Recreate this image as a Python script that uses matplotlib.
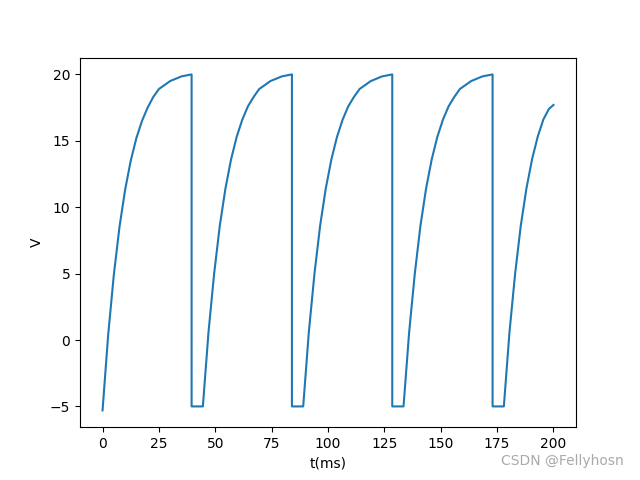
import matplotlib
matplotlib.use("Agg")
import matplotlib.pyplot as plt

# membrane potential (rise, spike drop, refractory hold)
t = [0, 2.5, 5, 7.5, 10, 12.5, 15, 17.5, 20, 22.5, 25, 30, 35, 39.5,
     39.5, 44.5,
     47, 49.5, 52, 54.5, 57, 59.5, 62, 64.5, 67, 69.5, 74.5, 79.5, 84,
     84, 89,
     91.5, 94, 96.5, 99, 101.5, 104, 106.5, 109, 111.5, 114, 119, 124, 128.5,
     128.5, 133.5,
     136, 138.5, 141, 143.5, 146, 148.5, 151, 153.5, 156, 158.5, 163.5, 168.5, 173,
     173, 178,
     180.5, 183, 185.5, 188, 190.5, 193, 195.5, 198, 200]
v = [-5.3, 0.4, 4.9, 8.5, 11.3, 13.5, 15.2, 16.5, 17.5, 18.3, 18.9, 19.5, 19.85, 20.0,
     -5, -5,
     0.6, 5.0, 8.6, 11.4, 13.6, 15.3, 16.6, 17.6, 18.3, 18.9, 19.5, 19.85, 20.0,
     -5, -5,
     0.6, 5.0, 8.6, 11.4, 13.6, 15.3, 16.6, 17.6, 18.3, 18.9, 19.5, 19.85, 20.0,
     -5, -5,
     0.6, 5.0, 8.6, 11.4, 13.6, 15.3, 16.6, 17.6, 18.3, 18.9, 19.5, 19.85, 20.0,
     -5, -5,
     0.6, 5.0, 8.6, 11.4, 13.6, 15.3, 16.6, 17.4, 17.7]

fig = plt.figure(figsize=(6.4, 4.8), dpi=100)
plt.plot(t, v)
plt.xlabel("t(ms)")
plt.ylabel("V")
fig.text(0.975, 0.025, "CSDN @Fellyhosn", color="#aaaaaa", ha="right", va="bottom", fontsize=10)
plt.savefig("out.png")
